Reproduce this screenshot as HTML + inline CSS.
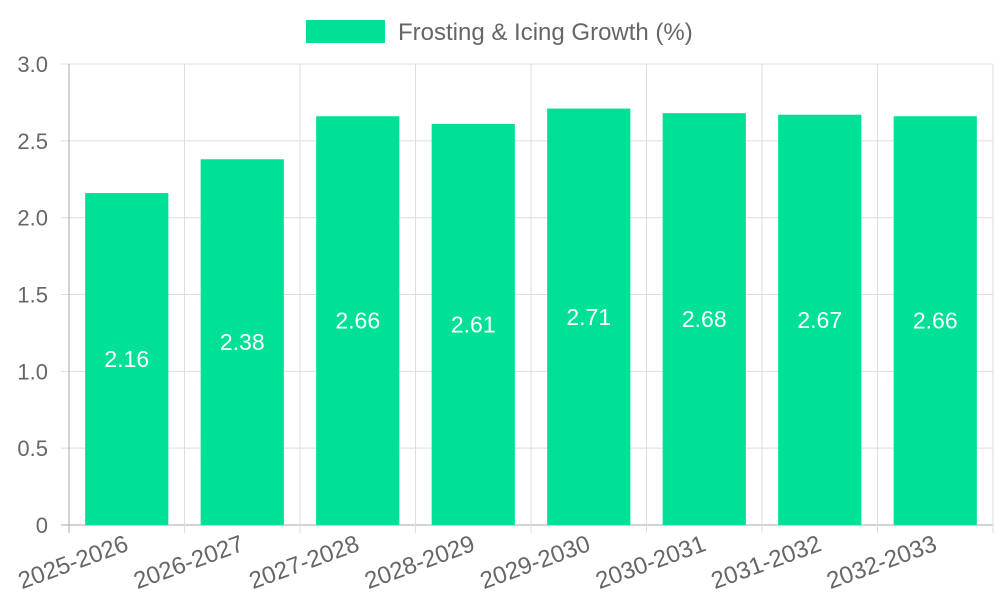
<!DOCTYPE html>
<html><head><meta charset="utf-8"><style>
html,body{margin:0;padding:0;background:#fff;}
svg text{font-family:"Liberation Sans",sans-serif;}
</style></head><body>
<svg id="chart" width="1000" height="600" xmlns="http://www.w3.org/2000/svg">
<g>
<rect x="306" y="20" width="79" height="23" fill="#00e096"/>
<text x="398" y="40" font-size="24" fill="#666">Frosting &amp; Icing Growth (%)</text>
</g>
<g id="grid"></g><g id="bars"></g><g id="labels"></g>
</svg>
<script>
const categories=["2025-2026","2026-2027","2027-2028","2028-2029","2029-2030","2030-2031","2031-2032","2032-2033"];
const values=[2.16,2.38,2.66,2.61,2.71,2.68,2.67,2.66];
const yTicks=[0,0.5,1.0,1.5,2.0,2.5,3.0];
const yTickLabels=["0","0.5","1.0","1.5","2.0","2.5","3.0"];
const NS="http://www.w3.org/2000/svg";
const L=69,R=993,T=64,B=525,yMax=3;
const y=v=>B-(v/yMax)*(B-T);
const bw=(R-L)/categories.length;
const x=i=>L+i*bw;
function mk(tag,a,p){const e=document.createElementNS(NS,tag);for(const k in a)e.setAttribute(k,a[k]);p.appendChild(e);return e;}
const grid=document.getElementById('grid'),bars=document.getElementById('bars'),labels=document.getElementById('labels');
yTicks.forEach((t,i)=>{
 const ln=mk('line',{x1:61,x2:R,y1:y(t),y2:y(t),stroke:i==0?'#aaa':'#ddd','stroke-width':1},grid);
 
 
 const tx=mk('text',{x:48,y:y(t)+8,'font-size':22,fill:'#666','text-anchor':'end'},grid);
 tx.textContent=yTickLabels[i];
 
 
});
for(let i=0;i<=categories.length;i++){
 const ln=mk('line',{x1:x(i),x2:x(i),y1:T,y2:B+8,stroke:i==0?'#aaa':'#ddd','stroke-width':1},grid);
 
 
}
categories.forEach((c,i)=>{
 const cx=x(i)+bw/2,w=bw*0.72;
 const r=mk('rect',{x:cx-w/2,y:y(values[i]),width:w,height:B-y(values[i]),fill:'#00e096'},bars);
 
 
 const v=mk('text',{x:cx,y:(y(values[i])+B)/2+8,'font-size':23,fill:'#fff','text-anchor':'middle'},labels);
 v.textContent=values[i].toFixed(2);
 
 
 const ax=cx+3,ay=B+25;
 const t=mk('text',{x:ax,y:ay,'font-size':24,fill:'#666','text-anchor':'end',transform:`rotate(-20 ${ax} ${ay})`},labels);
 t.textContent=c;
 
 
});
</script>
</body></html>
